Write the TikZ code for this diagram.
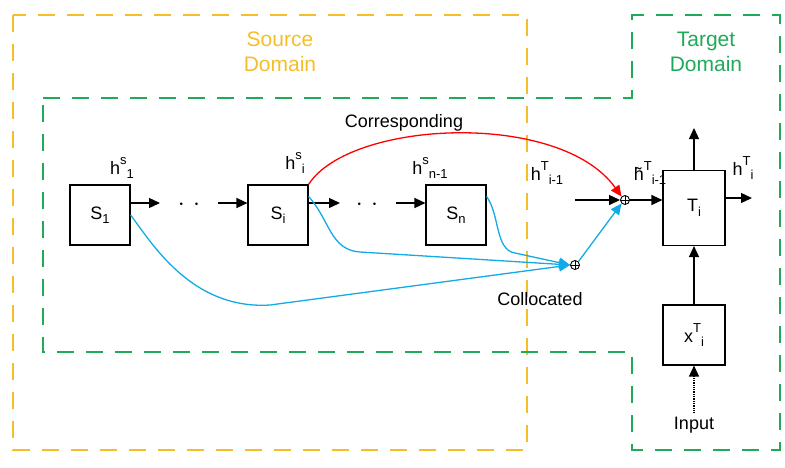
\documentclass[tikz,border=0pt]{standalone}
\usepackage{fontspec}
\setmainfont{Liberation Sans}
\usetikzlibrary{arrows.meta}
\definecolor{ylw}{RGB}{245,190,40}
\definecolor{grn}{RGB}{30,170,90}
\definecolor{blu}{RGB}{20,170,230}
\newcommand{\sps}[1]{\raisebox{0.55em}{\fontsize{13}{13}\selectfont #1}}
\newcommand{\sbs}[1]{\raisebox{-0.25em}{\fontsize{13}{13}\selectfont #1}}
\begin{document}
\begin{tikzpicture}[x=1pt,y=-1pt,
 box/.style={draw,line width=1.1pt,minimum width=60pt,minimum height=60pt,font=\fontsize{18}{18}\selectfont},
 op/.style={circle,draw,line width=0.9pt,inner sep=0pt,minimum size=9pt,path picture={\draw (path picture bounding box.north)--(path picture bounding box.south) (path picture bounding box.west)--(path picture bounding box.east);}},
 arr/.style={-{Triangle[length=11pt,width=10pt]},line width=1.3pt},
 barr/.style={-{Triangle[length=11pt,width=10pt]},line width=1.3pt,blu},
 lbl/.style={font=\fontsize{18}{18}\selectfont}]
\useasboundingbox (0,0) rectangle (785,467);
\draw[ylw,line width=1.5pt,dash pattern=on 17pt off 12pt] (13,15) rectangle (527,450);
\draw[grn,line width=1.5pt,dash pattern=on 17pt off 12pt] (43,98) -- (632,98) -- (632,15) -- (780,15) -- (780,450) -- (632,450) -- (632,352) -- (43,352) -- cycle;
\node[ylw,align=center,font=\fontsize{21}{25}\selectfont] (sd) at (280,52) {Source\\Domain};
\node[grn,align=center,font=\fontsize{21}{25}\selectfont] (td) at (706,52) {Target\\Domain};
\node[box] (s1) at (100,215) {S\sbs{1}};
\node[box] (si) at (278,215) {S\sbs{i}};
\node[box] (sn) at (456,215) {S\sbs{n}};
\node[box,minimum width=62pt,minimum height=75pt] (ti) at (694,208) {T\sbs{i}};
\node[box,minimum width=62pt] (xi) at (694,335) {x\sps{T}\sbs{i}};
\node[op] (o1) at (625,200) {};
\node[op] (o2) at (575,265) {};
\node[font=\fontsize{30}{30}\selectfont] (d1) at (189,205) {$\cdot\,\,\cdot$};
\node[font=\fontsize{30}{30}\selectfont] (d2) at (367,205) {$\cdot\,\,\cdot$};
\coordinate (a1) at (160,203); \coordinate (b1) at (218,203);
\coordinate (a2) at (340,203); \coordinate (b2) at (396,203);
\draw[arr] (s1.east|-a1) -- (a1);
\draw[arr] (b1) -- (si.west|-b1);
\draw[arr] (si.east|-a2) -- (a2);
\draw[arr] (b2) -- (sn.west|-b2);
\coordinate (hin) at (575,200);
\draw[arr] (hin) -- (o1.west);
\draw[arr] (o1.east) -- (ti.west|-o1);
\coordinate (tout) at (752,198);
\draw[arr] (ti.east|-tout) -- (tout);
\coordinate (tup) at (694,128);
\draw[arr] (ti.north) -- (tup);
\draw[arr] (xi.north) -- (ti.south);
\node[lbl] (inp) at (694,425) {Input};
\draw[arr,densely dotted] (inp.north) -- (xi.south);
\draw[-{Triangle[length=11pt,width=10pt]},line width=1.3pt,red] (si.north east) .. controls (350,120) and (560,110) .. (o1.north west);
\draw[barr] (s1.east) .. controls (150,240) and (190,310) .. (270,305) -- (o2.west);
\draw[barr] ([yshift=-12pt]si.north east) .. controls (330,220) and (330,250) .. (360,252) -- (o2.west);
\draw[barr] ([yshift=-12pt]sn.north east) .. controls (500,215) and (495,250) .. (515,253) -- (o2.west);
\draw[barr] (o2.north east) -- (o1.south west);
\node[lbl] (c1) at (404,123) {Corresponding};
\node[lbl] (c2) at (540,299) {Collocated};
\node[lbl] (l1) at (122,168) {h\sps{s}\sbs{1}};
\node[lbl] (l2) at (295,163) {h\sps{s}\sbs{i}};
\node[lbl] (l3) at (430,168) {h\sps{s}\sbs{n-1}};
\node[lbl] (l4) at (547,173) {h\sps{T}\sbs{i-1}};
\node[lbl] (l5) at (650,173) {\~h\sps{T}\sbs{i-1}};
\node[lbl] (l6) at (743,168) {h\sps{T}\sbs{i}};
\end{tikzpicture}
\end{document}
